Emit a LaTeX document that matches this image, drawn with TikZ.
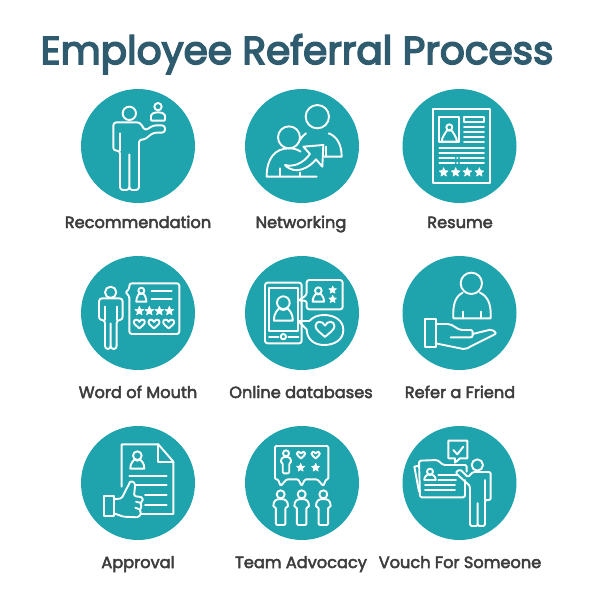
\documentclass[tikz,border=0pt]{standalone}
\usepackage{fontspec}
\setmainfont{Poppins}
\newfontfamily\titlefont[FakeBold=4]{Poppins}
\newfontfamily\labelfont[FakeBold=3]{Poppins}
\definecolor{tealc}{HTML}{1FA3AD}
\definecolor{titlec}{HTML}{2F5B6E}
\definecolor{labelc}{HTML}{3D3D3D}
\tikzset{
  disc/.style={circle,fill=tealc,minimum size=114pt,inner sep=0pt,draw=none},
  lab/.style={anchor=base,text=labelc,font=\labelfont\fontsize{16.2}{18}\selectfont,inner sep=0pt},
  ico/.style={draw=white,line width=1.9pt,line join=round,line cap=round,fill=none}
}
\newcommand\icostar[3]{\fill[white,line join=round,draw=white,line width=.6pt,shift={(#1,#2)}]
 (-90:#3)--(-54:#3*.45)--(-18:#3)--(18:#3*.45)--(54:#3)--(90:#3*.45)--(126:#3)--(162:#3*.45)--(198:#3)--(234:#3*.45)--cycle;}
\newcommand\icoheart[3]{\draw[ico,shift={(#1,#2)},scale=#3]
 (0,12) .. controls (-5,7) and (-15,1) .. (-15,-5) .. controls (-15,-14) and (-4,-14) .. (0,-6) .. controls (4,-14) and (15,-14) .. (15,-5) .. controls (15,1) and (5,7) .. (0,12) -- cycle;}
\newcommand\icobust[5]{\draw[ico] (#1,#2) circle (#3);
 \draw[ico] (#1-#4,#5) .. controls (#1-#4-1,#5-#3*1.2) and (#1-#3*.9,#2+#3*1.15) .. (#1-#3*.6,#2+#3*.85)
  .. controls (#1-#3*.3,#2+#3*1.25) and (#1+#3*.3,#2+#3*1.25) .. (#1+#3*.6,#2+#3*.85)
  .. controls (#1+#3*.9,#2+#3*1.15) and (#1+#4+1,#5-#3*1.2) .. (#1+#4,#5) -- cycle;}
\newcommand\icopawn[5]{\draw[ico] (#1,#2) circle (#3);
 \draw[ico,rounded corners=1.2pt] (#1-#4*.65,#5) -- (#1-#4*.65,#2+#3*3.2) -- (#1-#4,#2+#3*3.2)
  .. controls (#1-#4,#2+#3*1.6) and (#1-#4*.6,#2+#3*1.2) .. (#1,#2+#3*1.2)
  .. controls (#1+#4*.6,#2+#3*1.2) and (#1+#4,#2+#3*1.6) .. (#1+#4,#2+#3*3.2)
  -- (#1+#4*.65,#2+#3*3.2) -- (#1+#4*.65,#5) -- cycle;}
\begin{document}
\begin{tikzpicture}[x=1pt,y=-1pt]
\useasboundingbox (0,0) rectangle (600,600);
\fill[white] (0,0) rectangle (600,600);
\node[anchor=base,text=titlec,inner sep=0pt,font=\titlefont\fontsize{39}{46}\selectfont] (title) at (297,64) {Employee Referral Process};
\node[disc] (d1) at (138,146) {};
\node[disc] (d2) at (302,146) {};
\node[disc] (d3) at (459.5,146) {};
\node[disc] (d4) at (138,313) {};
\node[disc] (d5) at (302,313) {};
\node[disc] (d6) at (459.5,313) {};
\node[disc] (d7) at (138,483) {};
\node[disc] (d8) at (302,483) {};
\node[disc] (d9) at (459.5,483) {};
\node[lab] (l1) at (138,228) {Recommendation};
\node[lab] (l2) at (301,228) {Networking};
\node[lab] (l3) at (460,228) {Resume};
\node[lab] (l4) at (138,398) {Word of Mouth};
\node[lab] (l5) at (301,398) {Online databases};
\node[lab] (l6) at (460,398) {Refer a Friend};
\node[lab] (l7) at (138,568) {Approval};
\node[lab] (l8) at (301,568) {Team Advocacy};
\node[lab] (l9) at (460,568) {Vouch For Someone};
% --- row 1, left two
\begin{scope}[shift={(90,80)},x=1pt/3,y=-1pt/3]
 \draw[ico] (118,100) circle (20);
 \draw[ico,rounded corners=3pt] (70,212) -- (70,127) -- (150,127) -- (165,152) -- (190,136) -- (225,136) -- (225,158) -- (190,158) -- (162,180) -- (147,178) -- (147,330) -- (118,330) -- (118,218) -- (118,330) -- (90,330) -- (90,212) -- cycle;
 \draw[ico] (90,212) -- (90,160);
 \draw[ico] (204,80) circle (11);
 \draw[ico,rounded corners=1pt] (183,122) -- (183,108) .. controls (186,94) and (222,94) .. (225,108) -- (225,122) -- cycle;
 \draw[ico] (682,110) circle (35);
 \draw[ico] (648,160) .. controls (640,165) and (635,172) .. (630,180);
 \draw[ico] (716,160) .. controls (738,168) and (755,190) .. (755,230) -- (703,230);
 \draw[ico] (708,230) -- (708,200);
 \draw[ico] (597,172) circle (33);
 \draw[ico] (632,215) .. controls (620,207) and (610,205) .. (597,205) .. controls (555,205) and (530,235) .. (530,290) -- (680,290);
 \draw[ico] (570,265) -- (570,290);
 \draw[ico] (630,278) -- (630,290);
 \draw[ico] (640,200) -- (700,195) -- (697,260) -- (678,238) .. controls (660,262) and (615,288) .. (585,255) .. controls (610,262) and (640,250) .. (660,222) -- cycle;
\end{scope}
% --- resume
\begin{scope}[shift={(390,80)},x=1pt/3,y=-1pt/3]
 \draw[ico] (130,88) rectangle (300,310);
 \draw[ico] (148,112) rectangle (208,185);
 \icobust{178}{142}{9}{23}{185}
 \draw[ico] (222,112) rectangle (282,127);
 \foreach \yy in {142,157,172,187,203,218} {\draw[ico] (222,\yy) -- (282,\yy);}
 \draw[ico] (148,203) -- (222,203);
 \draw[ico] (148,218) -- (222,218);
 \foreach \yy in {233,248} {\draw[ico] (148,\yy) -- (193,\yy); \draw[ico] (201,\yy) -- (203,\yy); \draw[ico] (211,\yy) -- (282,\yy);}
 \icostar{161}{277}{14}
 \icostar{197}{277}{14}
 \icostar{232}{277}{14}
 \icostar{268}{277}{14}
\end{scope}
% --- word of mouth + online
\begin{scope}[shift={(70,250)},x=1pt/3,y=-1pt/3]
 \draw[ico] (122,127) circle (17);
 \draw[ico,rounded corners=3pt] (105,210) -- (87,210) -- (87,145) -- (158,145) -- (158,210) -- (140,210) -- (140,297) -- (122,297) -- (122,215) -- (122,297) -- (105,297) -- cycle;
 \draw[ico] (105,210) -- (105,170);
 \draw[ico] (140,210) -- (140,170);
 \draw[ico,rounded corners=2.5pt] (178,137) -- (165,127) -- (178,118) -- (178,100) -- (328,100) -- (328,252) -- (178,252) -- cycle;
 \icobust{214}{122}{9}{15}{155}
 \draw[ico] (245,122) -- (305,122);
 \draw[ico] (245,147) -- (305,147);
 \icostar{208}{183}{14}
 \icostar{238}{183}{14}
 \icostar{268}{183}{14}
 \icostar{298}{183}{14}
 \icoheart{208}{222}{1.1}
 \icoheart{252}{222}{1.1}
 \icoheart{296}{222}{1.1}
 \draw[ico,rounded corners=2.5pt] (585,98) rectangle (695,280);
 \draw[ico] (597,113) rectangle (683,243);
 \draw[ico] (597,260) -- (625,260);
 \draw[ico] (640,260) circle (8);
 \draw[ico] (655,260) -- (685,260);
 \icobust{640}{158}{19}{28}{212}
 \draw[ico,rounded corners=2.5pt] (685,152) -- (710,135) -- (710,90) -- (818,90) -- (818,178) -- (710,178) -- (710,152) -- cycle;
 \icobust{745}{122}{10}{17}{155}
 \icostar{788}{120}{12}
 \icostar{788}{148}{12}
 \draw[ico] (685,213) -- (718,213) .. controls (730,200) and (745,195) .. (762,195) .. controls (795,195) and (820,212) .. (820,240) .. controls (820,268) and (795,285) .. (762,285) .. controls (730,285) and (710,265) .. (710,238) -- cycle;
 \icoheart{765}{238}{1.9}
\end{scope}
% --- refer a friend
\begin{scope}[shift={(390,250)},x=1pt/3,y=-1pt/3]
 \draw[ico] (244,100) circle (32);
 \draw[ico] (218,128) .. controls (195,140) and (188,165) .. (190,205) -- (302,205) .. controls (304,165) and (295,140) .. (270,128);
 \draw[ico] (218,185) -- (218,205);
 \draw[ico] (272,185) -- (272,205);
 \draw[ico] (105,208) rectangle (137,292);
 \draw[ico,rounded corners=2pt] (137,222) -- (180,222) -- (210,240) -- (248,240) -- (248,262) -- (182,262);
 \draw[ico,rounded corners=2pt] (248,252) -- (305,238) -- (320,250) -- (225,298) -- (137,280);
\end{scope}
% --- approval + team
\begin{scope}[shift={(90,420)},x=1pt/3,y=-1pt/3]
 \draw[ico] (95,200) -- (95,73) -- (205,73) -- (250,125) -- (250,282) -- (155,282);
 \draw[ico] (205,73) -- (205,125) -- (250,125);
 \icobust{142}{107}{13}{21}{146}
 \draw[ico] (118,168) -- (230,168);
 \draw[ico] (138,195) -- (230,195);
 \draw[ico] (165,225) -- (230,225);
 \draw[ico] (165,255) -- (230,255);
 \draw[ico] (42,228) rectangle (72,288);
 \draw[ico,rounded corners=1.5pt] (72,238) -- (95,235) -- (122,182) -- (136,190) -- (132,228) -- (158,232) -- (158,245) -- (150,248) -- (156,262) -- (148,268) -- (154,280) -- (145,292) -- (100,290) -- (72,280);
 \draw[ico] (138,245) -- (150,248);
 \draw[ico] (136,263) -- (148,268);
 \draw[ico,rounded corners=1.2pt] (555,78) -- (715,78) -- (715,178) -- (708,178) -- (700,198) -- (682,178) -- (645,178) -- (635,198) -- (625,178) -- (590,178) -- (572,198) -- (564,178) -- (555,178) -- cycle;
 \icopawn{588}{100}{9}{15}{160}
 \icoheart{633}{105}{.85}
 \icoheart{677}{105}{.85}
 \icostar{632}{143}{13}
 \icostar{677}{143}{13}
 \icopawn{572}{223}{12}{22}{315}
 \icopawn{635}{223}{12}{22}{315}
 \icopawn{700}{223}{12}{22}{315}
\end{scope}
% --- vouch
\begin{scope}[shift={(380,420)},x=1pt/3,y=-1pt/3]
 \draw[ico] (205,62) -- (262,62) -- (262,115) -- (240,115) -- (225,128) -- (225,115) -- (205,115) -- cycle;
 \draw[ico] (220,90) -- (232,103) -- (250,80);
 \draw[ico] (117,215) -- (103,140) -- (117,137);
 \draw[ico,rounded corners=1.5pt] (255,180) -- (255,232) -- (120,232) -- (117,122) -- (172,120) -- (190,135) -- (260,135) -- (260,155);
 \icobust{150}{155}{9}{17}{180}
 \draw[ico] (175,165) -- (232,165);
 \draw[ico] (175,180) -- (228,180);
 \draw[ico] (135,195) -- (225,195);
 \draw[ico] (135,210) -- (225,210);
 \draw[ico] (292,135) circle (17);
 \draw[ico,rounded corners=1.5pt] (240,148) -- (264,172) -- (278,156) -- (332,156) -- (332,240) -- (315,240) -- (315,318) -- (293,318) -- (293,245) -- (293,318) -- (270,318) -- (270,198) -- (226,158) -- cycle;
 \draw[ico] (315,240) -- (315,180);
\end{scope}
\end{tikzpicture}
\end{document}
